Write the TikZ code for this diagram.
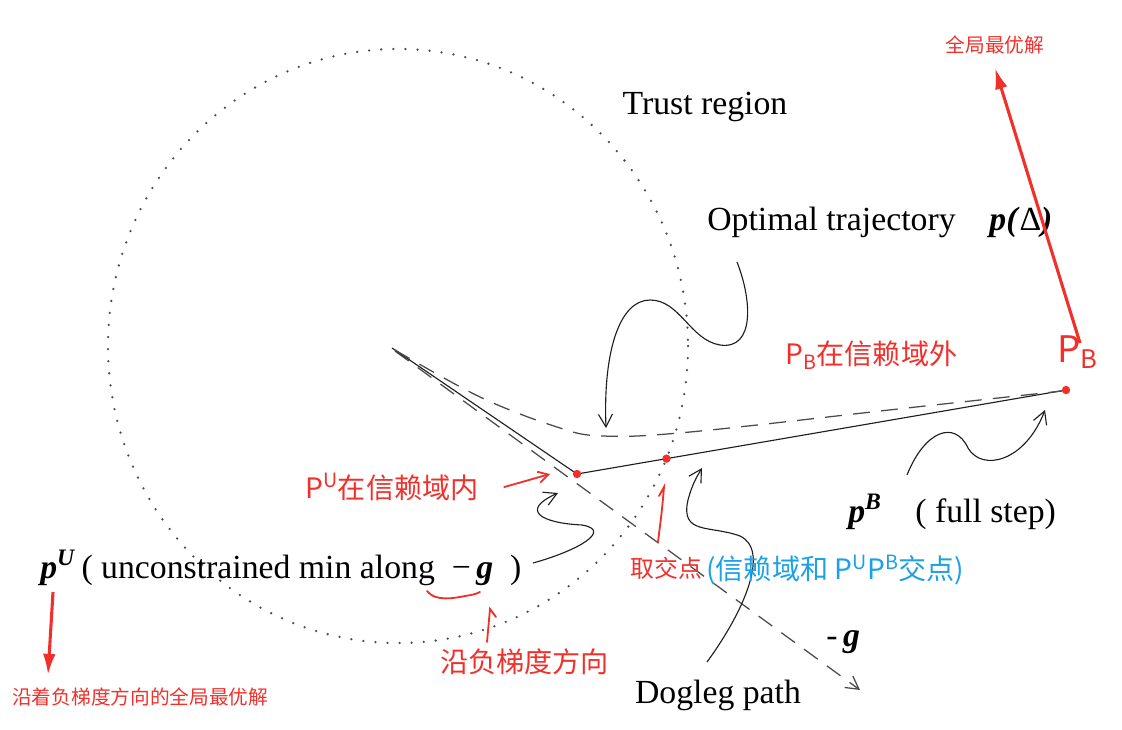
\documentclass[tikz,border=0pt]{standalone}
\usepackage{fontspec}
\setmainfont{Liberation Serif}
\newfontfamily\cjk{Noto Sans CJK SC}
\usetikzlibrary{arrows.meta,calc}
\definecolor{ink}{HTML}{1E1E1E}
\definecolor{note}{HTML}{F2302B}
\definecolor{sky}{HTML}{1CA0E6}
\newcommand{\bv}[1]{\textbf{\textit{#1}}}
\tikzset{>={Straight Barb[length=9pt,width=10pt]},
  region/.style={draw=ink!80,line width=1.8pt,line cap=round,dash pattern=on 0pt off 8.6pt},
  steep/.style={draw=ink!80,line width=0.9pt,dash pattern=on 12pt off 8pt},
  leg/.style={draw=ink,line width=0.8pt},
  hint/.style={draw=ink,line width=0.8pt,->},
  redarrow/.style={draw=note,line width=2.2pt,-{Latex[length=15pt,width=9pt]}},
  scrawl/.style={draw=note,line width=1.3pt,line cap=round},
  dot/.style={circle,fill=note,inner sep=2.1pt},
  lab/.style={font=\fontsize{24}{28}\selectfont,inner sep=0pt},
  zh/.style={font=\cjk\fontsize{14}{16}\selectfont,text=note,inner sep=0pt},
  hand/.style={font=\cjk\fontsize{20}{22}\selectfont,text=note,inner sep=0pt}}
\begin{document}
\begin{tikzpicture}[x=0.025cm,y=-0.025cm]
  \useasboundingbox (0,0) rectangle (1122,729);
  \draw[region] (398,346) ellipse [x radius=290,y radius=297];
  \coordinate (start) at (392,348);
  \coordinate (pU) at (577,474);
  \coordinate (pB) at (1066,390);
  \coordinate (gEnd) at (860,690);
  \coordinate (cut) at ($(pU)!0.183!(pB)$);
  \draw[steep,->] (395,351) -- (gEnd);
  \draw[leg] (start) -- (pU) -- (pB);
  \draw[steep] plot[smooth,tension=0.6] coordinates
    {(395,350) (480,397) (557,427) (603,436) (690,432) (907,408) (1062,391)};
  \node[dot] (uDot) at (pU) {};
  \node[dot] (cutDot) at (cut) {};
  \node[dot] (bDot) at (pB) {};
  % printed labels
  \node[lab] (trust) at (705,107) {Trust region};
  \node[lab,anchor=west] (optLab) at (707,222) {Optimal trajectory\quad\bv{p(}Δ\bv{)}};
  \node[lab,anchor=west] (fullLab) at (848,512) {\bv{p}\textsuperscript{\bv{B}}\quad( full step)};
  \node[lab,anchor=west] (uncLab) at (40,568)
    {\bv{p}\textsuperscript{\bv{U}}\,( unconstrained min along\enspace−\,\bv{g}\enspace)};
  \node[lab,anchor=west] (gLab) at (826,642) {-\,\bv{g}};
  \node[lab] (doglegLab) at (718,695) {Dogleg path};
  \coordinate (optTail) at (737,262);
  \coordinate (uTail) at (533,563);
  \coordinate (legTail) at (707,662);
  \coordinate (fullTail) at (907,475);
  \draw[hint] (optTail) .. controls (752,300) and (755,350) .. (720,345)
    .. controls (690,340) and (680,300) .. (650,300)
    .. controls (620,300) and (603,350) .. (606,428);
  \draw[hint] (uTail) .. controls (580,550) and (612,530) .. (582,525)
    .. controls (540,523) and (520,510) .. (558,493);
  \draw[hint] (legTail) .. controls (745,610) and (770,550) .. (740,536)
    .. controls (710,525) and (680,535) .. (688,500)
    .. controls (692,485) and (696,478) .. (702,468);
  \draw[hint] (fullTail) .. controls (925,430) and (955,420) .. (968,448)
    .. controls (982,472) and (1025,462) .. (1045,410);
  % red notes
  \node[zh] (best) at (995,45) {全局最优解};
  \node[zh,anchor=west] (bestU) at (12,697) {沿着负梯度方向的全局最优解};
  \node[hand,anchor=west] (inNote) at (305,487) {P\textsuperscript{U}在信赖域内};
  \node[hand,anchor=west] (outNote) at (785,355) {P\textsubscript{B}在信赖域外};
  \node[hand,font=\cjk\fontsize{26}{28}\selectfont] (pBNote) at (1078,352) {P\textsubscript{B}};
  \node[hand,anchor=west,font=\cjk\fontsize{17}{19}\selectfont] (cutNote) at (630,568) {取交点};
  \node[hand,anchor=west,text=sky] (cutWhy) at (706,570) {(信赖域和 P\textsuperscript{U}P\textsuperscript{B}交点)};
  \node[hand,anchor=west] (downNote) at (440,662) {沿负梯度方向};
  \coordinate (redTail) at (1080,343);
  \coordinate (uNoteTail) at (53,592);
  \draw[redarrow] (redTail) -- (best.south |- 0,68);
  \draw[redarrow] (uNoteTail) -- (48,675);
  \draw[scrawl,-{Straight Barb[length=7pt,width=8pt]}] ([xshift=18]inNote.east) .. controls (515,484) .. (550,474);
  \draw[scrawl] (658,542) .. controls (662,510) .. (664,487) -- (659,496);
  \draw[scrawl] (427,591) .. controls (435,602) and (455,598) .. (465,596)
    .. controls (472,595) and (476,594) .. (480,592);
  \draw[scrawl] (487,642) -- (490,609) -- (496,617);
\end{tikzpicture}
\end{document}
